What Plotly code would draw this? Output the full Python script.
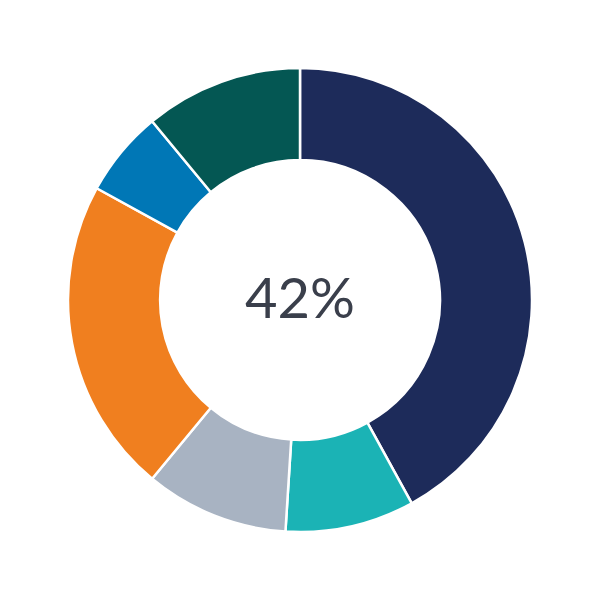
import plotly.graph_objects as go

# slice shares, clockwise from 12 o'clock
labels = ["A", "B", "C", "D", "E", "F"]
values = [42, 9, 10, 22, 6, 11]
colors = ["#1d2b5a", "#1bb3b5", "#a8b3c2", "#f07f1f", "#0077b6", "#045753"]
center_label = "42%"

fig = go.Figure(go.Pie(
    labels=labels,
    values=values,
    hole=0.603,
    sort=False,
    direction="clockwise",
    rotation=0,
    textinfo="none",
    hoverinfo="label+percent",
    marker=dict(colors=colors, line=dict(color="white", width=2.5)),
    showlegend=False,
))

fig.add_annotation(
    text=center_label, x=0.5, y=0.5, xref="paper", yref="paper", yshift=4,
    showarrow=False, font=dict(family="Lato, Open Sans, sans-serif", size=56, color="#3a3f4b"),
)

# page body adds an 8px offset, so keep the figure a bit smaller than the window
fig.update_layout(
    width=584, height=584,
    margin=dict(l=60, r=60, t=60, b=60),
    paper_bgcolor="white",
    plot_bgcolor="white",
)

fig.write_html("out.html")
